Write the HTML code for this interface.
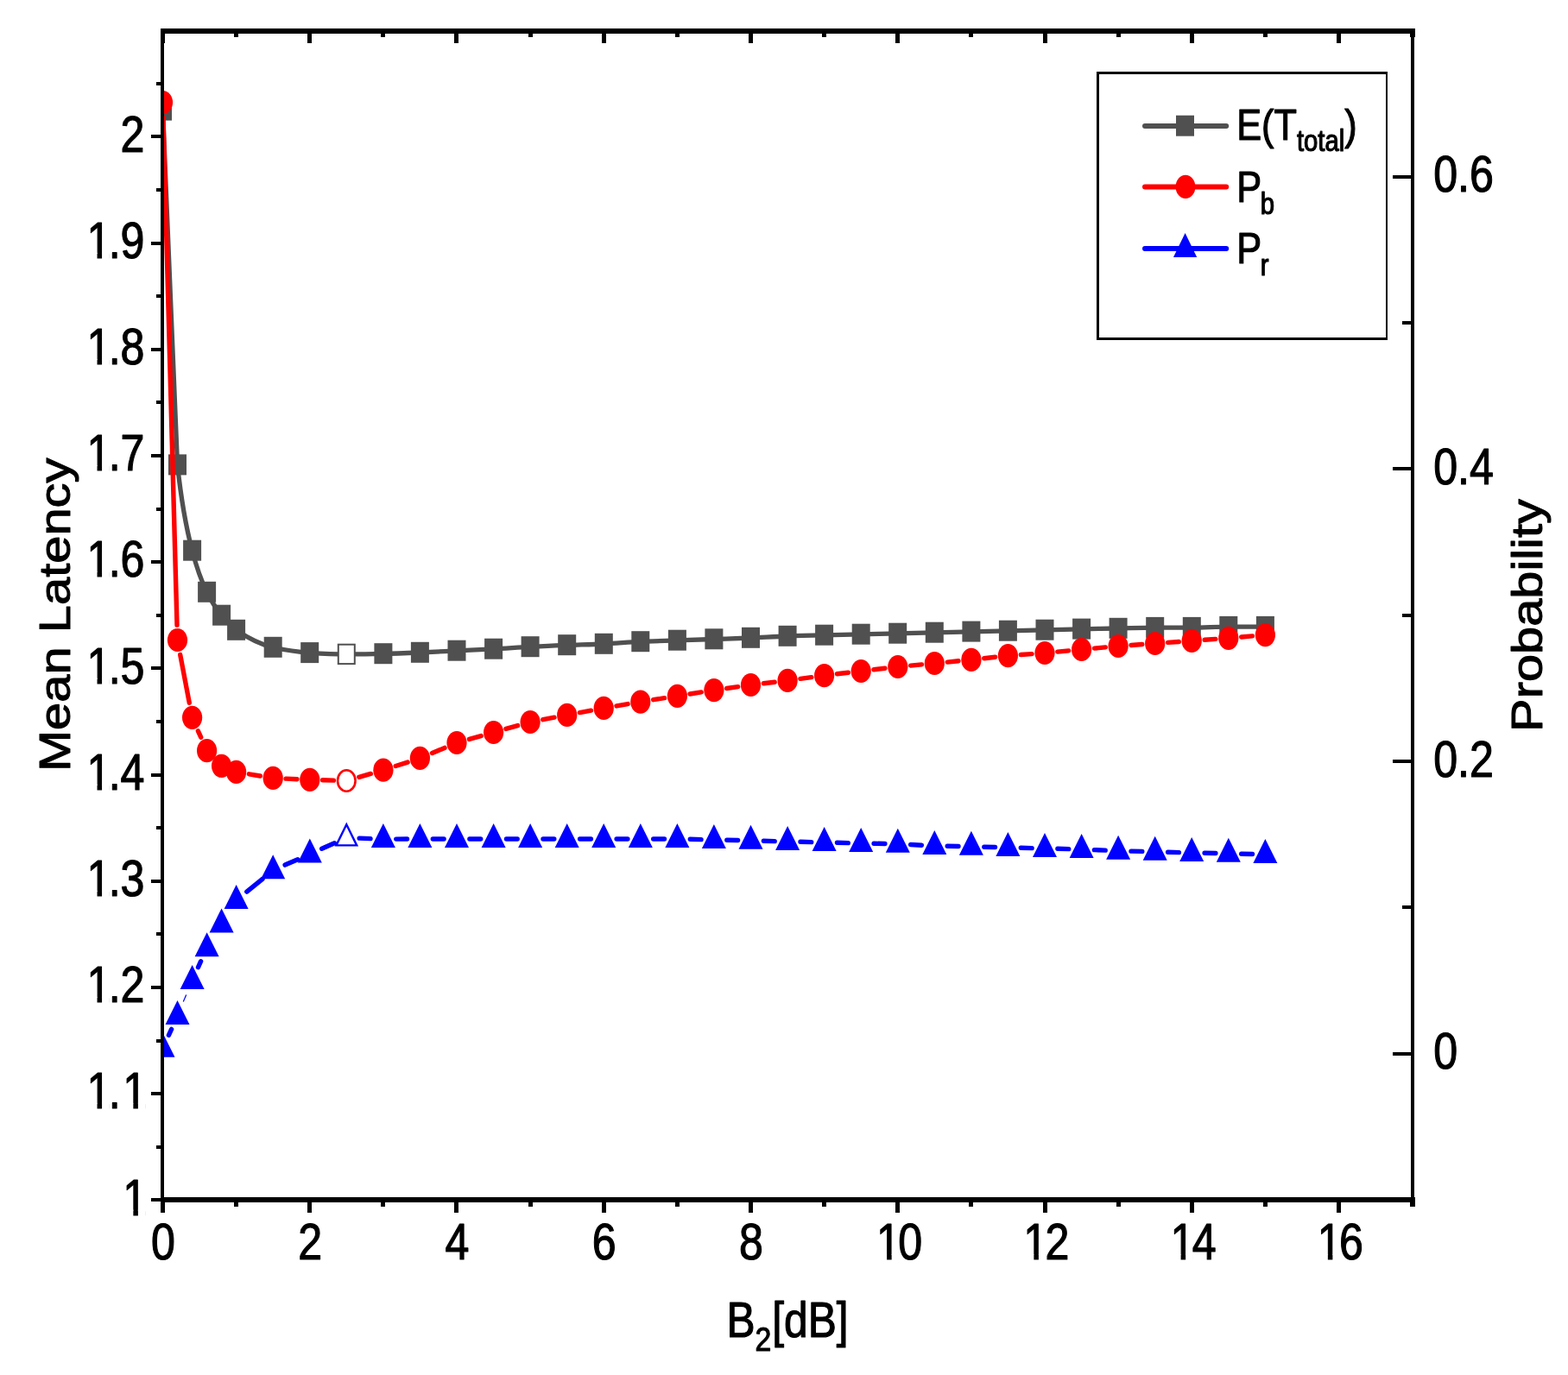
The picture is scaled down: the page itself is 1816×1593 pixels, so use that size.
<!DOCTYPE html>
<html lang="en"><head><meta charset="utf-8"><title>Mean Latency and Probability vs B2</title>
<style>html,body{margin:0;padding:0;background:#fff;}body{width:1816px;height:1593px;overflow:hidden;}svg{display:block;}text{font-family:'Liberation Sans', Arial, Helvetica, sans-serif;fill:#000;stroke:#000;stroke-width:1.2px;stroke-linejoin:round;}</style>
</head><body>
<svg width="1816" height="1593" viewBox="0 0 1816 1593">
<rect x="0" y="0" width="1816" height="1593" fill="#fff"/>
<defs><clipPath id="plot"><rect x="186" y="36" width="1450" height="1354"/></clipPath></defs>
<g clip-path="url(#plot)">
<path d="M188.5 127.8L205.5 538.6C211.2 591.9 216.9 616.3 222.6 637.9C228.2 659.5 233.9 674.5 239.6 686.0C245.2 697.5 250.9 705.9 256.6 712.9C262.3 719.9 267.9 726.2 273.6 730.0C287.8 739.6 302.0 746.8 316.2 750.0C330.4 753.2 344.6 755.4 358.8 756.3C372.9 757.2 387.1 757.9 401.3 757.9C415.5 757.9 429.7 757.6 443.9 757.4C458.1 757.2 472.2 756.6 486.4 756.0C500.6 755.4 514.8 754.6 529.0 753.9C543.2 753.2 557.4 752.6 571.6 751.9C585.8 751.2 599.9 750.1 614.1 749.4C628.3 748.7 642.5 747.9 656.7 747.4C670.9 746.9 685.1 746.6 699.2 746.0C713.4 745.4 727.6 744.0 741.8 743.4C756.0 742.8 770.2 742.4 784.4 741.9C798.6 741.4 812.8 741.0 826.9 740.5C841.1 740.0 855.3 739.6 869.5 739.0C883.7 738.4 897.9 737.5 912.1 737.0C926.2 736.5 940.4 736.2 954.6 735.9C968.8 735.6 983.0 735.2 997.2 734.9C1011.4 734.6 1025.6 734.2 1039.8 733.9C1053.9 733.6 1068.1 733.2 1082.3 732.9C1096.5 732.6 1110.7 732.1 1124.9 731.8C1139.1 731.5 1153.2 731.2 1167.4 730.9C1181.6 730.6 1195.8 730.2 1210.0 729.9C1224.2 729.6 1238.4 729.1 1252.6 728.8C1266.8 728.5 1280.9 728.3 1295.1 728.0C1309.3 727.7 1323.5 727.1 1337.7 727.1C1351.9 727.1 1366.1 727.1 1380.2 727.1C1394.4 727.1 1408.6 726.1 1422.8 726.1C1437.0 726.1 1451.2 726.1 1465.4 726.1" fill="none" stroke="#505050" stroke-width="5.3" stroke-linejoin="round"/>
<rect x="178.0" y="115.6" width="21" height="24" fill="#505050"/>
<rect x="195.0" y="526.4" width="21" height="24" fill="#505050"/>
<rect x="212.1" y="625.7" width="21" height="24" fill="#505050"/>
<rect x="229.1" y="673.8" width="21" height="24" fill="#505050"/>
<rect x="246.1" y="700.7" width="21" height="24" fill="#505050"/>
<rect x="263.1" y="717.8" width="21" height="24" fill="#505050"/>
<rect x="305.7" y="737.8" width="21" height="24" fill="#505050"/>
<rect x="348.2" y="744.1" width="21" height="24" fill="#505050"/>
<rect x="391.8" y="746.7" width="19.0" height="22.4" fill="#fff" stroke="#505050" stroke-width="2"/>
<rect x="433.4" y="745.2" width="21" height="24" fill="#505050"/>
<rect x="475.9" y="743.8" width="21" height="24" fill="#505050"/>
<rect x="518.5" y="741.7" width="21" height="24" fill="#505050"/>
<rect x="561.1" y="739.7" width="21" height="24" fill="#505050"/>
<rect x="603.6" y="737.2" width="21" height="24" fill="#505050"/>
<rect x="646.2" y="735.2" width="21" height="24" fill="#505050"/>
<rect x="688.8" y="733.8" width="21" height="24" fill="#505050"/>
<rect x="731.3" y="731.2" width="21" height="24" fill="#505050"/>
<rect x="773.9" y="729.7" width="21" height="24" fill="#505050"/>
<rect x="816.4" y="728.3" width="21" height="24" fill="#505050"/>
<rect x="859.0" y="726.8" width="21" height="24" fill="#505050"/>
<rect x="901.6" y="724.8" width="21" height="24" fill="#505050"/>
<rect x="944.1" y="723.7" width="21" height="24" fill="#505050"/>
<rect x="986.7" y="722.7" width="21" height="24" fill="#505050"/>
<rect x="1029.2" y="721.7" width="21" height="24" fill="#505050"/>
<rect x="1071.8" y="720.7" width="21" height="24" fill="#505050"/>
<rect x="1114.4" y="719.6" width="21" height="24" fill="#505050"/>
<rect x="1156.9" y="718.7" width="21" height="24" fill="#505050"/>
<rect x="1199.5" y="717.7" width="21" height="24" fill="#505050"/>
<rect x="1242.1" y="716.6" width="21" height="24" fill="#505050"/>
<rect x="1284.6" y="715.8" width="21" height="24" fill="#505050"/>
<rect x="1327.2" y="714.9" width="21" height="24" fill="#505050"/>
<rect x="1369.8" y="714.9" width="21" height="24" fill="#505050"/>
<rect x="1412.3" y="713.9" width="21" height="24" fill="#505050"/>
<rect x="1454.9" y="713.9" width="21" height="24" fill="#505050"/>
<path d="M189.0 136.0 L205.0 724.1M208.7 758.5 L219.3 814.3M229.4 846.8 L232.7 854.2M288.4 896.8 L301.4 899.0M331.1 902.1 L343.9 902.7M373.6 903.8 L386.4 904.1M415.8 900.3 L429.4 896.4M458.2 887.5 L472.1 883.1M500.5 872.5 L515.0 866.4M543.5 856.4 L557.1 852.6M586.0 844.4 L599.6 840.6M628.8 833.7 L642.0 831.2M671.4 825.6 L684.5 823.2M714.0 817.9 L727.1 815.6M756.6 810.7 L769.6 808.7M799.1 804.0 L812.2 801.9M841.7 797.5 L854.7 795.6M884.3 791.7 L897.2 790.2M926.9 786.4 L939.8 784.6M969.4 780.8 L982.4 779.3M1012.0 775.8 L1024.9 774.2M1054.6 771.1 L1067.5 769.9M1097.2 767.1 L1110.0 765.8M1139.7 762.7 L1152.6 761.3M1182.3 758.5 L1195.1 757.6M1224.8 755.1 L1237.7 753.9M1267.4 751.1 L1280.3 749.9M1310.0 747.5 L1322.8 746.5M1352.6 744.4 L1365.4 743.5M1395.1 741.3 L1407.9 740.4M1437.7 738.0 L1450.5 736.9" fill="none" stroke="#ff0000" stroke-width="5.4" stroke-linecap="round"/>
<ellipse cx="188.5" cy="118.6" rx="11.6" ry="13.6" fill="#ff0000"/>
<ellipse cx="205.5" cy="741.5" rx="11.6" ry="13.6" fill="#ff0000"/>
<ellipse cx="222.6" cy="831.3" rx="11.6" ry="13.6" fill="#ff0000"/>
<ellipse cx="239.6" cy="869.7" rx="11.6" ry="13.6" fill="#ff0000"/>
<ellipse cx="256.6" cy="887.3" rx="11.6" ry="13.6" fill="#ff0000"/>
<ellipse cx="273.6" cy="894.4" rx="11.6" ry="13.6" fill="#ff0000"/>
<ellipse cx="316.2" cy="901.4" rx="11.6" ry="13.6" fill="#ff0000"/>
<ellipse cx="358.8" cy="903.4" rx="11.6" ry="13.6" fill="#ff0000"/>
<ellipse cx="401.3" cy="904.5" rx="10.3" ry="12.3" fill="#fff" stroke="#ff0000" stroke-width="2.6"/>
<ellipse cx="443.9" cy="892.2" rx="11.6" ry="13.6" fill="#ff0000"/>
<ellipse cx="486.4" cy="878.4" rx="11.6" ry="13.6" fill="#ff0000"/>
<ellipse cx="529.0" cy="860.5" rx="11.6" ry="13.6" fill="#ff0000"/>
<ellipse cx="571.6" cy="848.5" rx="11.6" ry="13.6" fill="#ff0000"/>
<ellipse cx="614.1" cy="836.5" rx="11.6" ry="13.6" fill="#ff0000"/>
<ellipse cx="656.7" cy="828.4" rx="11.6" ry="13.6" fill="#ff0000"/>
<ellipse cx="699.2" cy="820.4" rx="11.6" ry="13.6" fill="#ff0000"/>
<ellipse cx="741.8" cy="813.1" rx="11.6" ry="13.6" fill="#ff0000"/>
<ellipse cx="784.4" cy="806.3" rx="11.6" ry="13.6" fill="#ff0000"/>
<ellipse cx="826.9" cy="799.6" rx="11.6" ry="13.6" fill="#ff0000"/>
<ellipse cx="869.5" cy="793.5" rx="11.6" ry="13.6" fill="#ff0000"/>
<ellipse cx="912.1" cy="788.4" rx="11.6" ry="13.6" fill="#ff0000"/>
<ellipse cx="954.6" cy="782.6" rx="11.6" ry="13.6" fill="#ff0000"/>
<ellipse cx="997.2" cy="777.5" rx="11.6" ry="13.6" fill="#ff0000"/>
<ellipse cx="1039.8" cy="772.5" rx="11.6" ry="13.6" fill="#ff0000"/>
<ellipse cx="1082.3" cy="768.5" rx="11.6" ry="13.6" fill="#ff0000"/>
<ellipse cx="1124.9" cy="764.4" rx="11.6" ry="13.6" fill="#ff0000"/>
<ellipse cx="1167.4" cy="759.6" rx="11.6" ry="13.6" fill="#ff0000"/>
<ellipse cx="1210.0" cy="756.5" rx="11.6" ry="13.6" fill="#ff0000"/>
<ellipse cx="1252.6" cy="752.5" rx="11.6" ry="13.6" fill="#ff0000"/>
<ellipse cx="1295.1" cy="748.5" rx="11.6" ry="13.6" fill="#ff0000"/>
<ellipse cx="1337.7" cy="745.5" rx="11.6" ry="13.6" fill="#ff0000"/>
<ellipse cx="1380.2" cy="742.4" rx="11.6" ry="13.6" fill="#ff0000"/>
<ellipse cx="1422.8" cy="739.3" rx="11.6" ry="13.6" fill="#ff0000"/>
<ellipse cx="1465.4" cy="735.6" rx="11.6" ry="13.6" fill="#ff0000"/>
<path d="M212.3 1160.6 L215.7 1152.4" fill="none" stroke="#0000ff" stroke-width="1.2"/>
<path d="M195.4 1199.3 L198.6 1192.4M229.5 1120.6 L232.6 1113.7M285.8 1033.1 L304.0 1018.3M330.1 1002.1 L344.8 995.7M372.7 983.3 L387.4 976.8M416.2 971.1 L429.0 971.6M458.8 972.1 L471.5 972.0M501.3 972.0 L514.1 972.0M543.9 972.0 L556.7 972.0M586.5 972.0 L599.2 972.0M629.0 972.0 L641.8 972.0M671.6 972.0 L684.4 972.0M714.1 972.0 L726.9 972.0M756.7 972.0 L769.5 972.0M799.3 972.3 L812.0 972.6M841.8 973.2 L854.6 973.5M884.4 974.2 L897.2 974.6M927.0 975.3 L939.7 975.6M969.5 976.2 L982.3 976.6M1012.1 977.2 L1024.9 977.5M1054.6 978.5 L1067.4 979.2M1097.2 980.2 L1110.0 980.5M1139.8 981.2 L1152.5 981.5M1182.3 982.2 L1195.1 982.6M1224.9 983.3 L1237.7 983.6M1267.4 984.6 L1280.2 985.1M1310.0 986.1 L1322.8 986.4M1352.6 987.2 L1365.4 987.6M1395.1 988.3 L1407.9 988.5M1437.7 989.2 L1450.5 989.5" fill="none" stroke="#0000ff" stroke-width="5.4" stroke-linecap="round"/>
<path d="M188.5 1196.7 L202.5 1224.7 L174.5 1224.7 Z" fill="#0000ff"/>
<path d="M205.5 1159.0 L219.5 1187.0 L191.5 1187.0 Z" fill="#0000ff"/>
<path d="M222.6 1118.0 L236.6 1146.0 L208.6 1146.0 Z" fill="#0000ff"/>
<path d="M239.6 1080.3 L253.6 1108.3 L225.6 1108.3 Z" fill="#0000ff"/>
<path d="M256.6 1052.4 L270.6 1080.4 L242.6 1080.4 Z" fill="#0000ff"/>
<path d="M273.6 1025.1 L287.6 1053.1 L259.6 1053.1 Z" fill="#0000ff"/>
<path d="M316.2 990.3 L330.2 1018.3 L302.2 1018.3 Z" fill="#0000ff"/>
<path d="M358.8 971.5 L372.8 999.5 L344.8 999.5 Z" fill="#0000ff"/>
<path d="M401.3 955.3 L413.2 979.4 L389.4 979.4 Z" fill="#fff" stroke="#0000ff" stroke-width="2.4" stroke-linejoin="miter"/>
<path d="M443.9 954.1 L457.9 982.1 L429.9 982.1 Z" fill="#0000ff"/>
<path d="M486.4 954.0 L500.4 982.0 L472.4 982.0 Z" fill="#0000ff"/>
<path d="M529.0 954.0 L543.0 982.0 L515.0 982.0 Z" fill="#0000ff"/>
<path d="M571.6 954.0 L585.6 982.0 L557.6 982.0 Z" fill="#0000ff"/>
<path d="M614.1 954.0 L628.1 982.0 L600.1 982.0 Z" fill="#0000ff"/>
<path d="M656.7 954.0 L670.7 982.0 L642.7 982.0 Z" fill="#0000ff"/>
<path d="M699.2 954.0 L713.2 982.0 L685.2 982.0 Z" fill="#0000ff"/>
<path d="M741.8 954.0 L755.8 982.0 L727.8 982.0 Z" fill="#0000ff"/>
<path d="M784.4 954.0 L798.4 982.0 L770.4 982.0 Z" fill="#0000ff"/>
<path d="M826.9 954.9 L840.9 982.9 L812.9 982.9 Z" fill="#0000ff"/>
<path d="M869.5 955.8 L883.5 983.8 L855.5 983.8 Z" fill="#0000ff"/>
<path d="M912.1 957.0 L926.1 985.0 L898.1 985.0 Z" fill="#0000ff"/>
<path d="M954.6 957.9 L968.6 985.9 L940.6 985.9 Z" fill="#0000ff"/>
<path d="M997.2 958.9 L1011.2 986.9 L983.2 986.9 Z" fill="#0000ff"/>
<path d="M1039.8 959.8 L1053.8 987.8 L1025.8 987.8 Z" fill="#0000ff"/>
<path d="M1082.3 961.9 L1096.3 989.9 L1068.3 989.9 Z" fill="#0000ff"/>
<path d="M1124.9 962.8 L1138.9 990.8 L1110.9 990.8 Z" fill="#0000ff"/>
<path d="M1167.4 963.9 L1181.4 991.9 L1153.4 991.9 Z" fill="#0000ff"/>
<path d="M1210.0 964.9 L1224.0 992.9 L1196.0 992.9 Z" fill="#0000ff"/>
<path d="M1252.6 966.0 L1266.6 994.0 L1238.6 994.0 Z" fill="#0000ff"/>
<path d="M1295.1 967.7 L1309.1 995.7 L1281.1 995.7 Z" fill="#0000ff"/>
<path d="M1337.7 968.8 L1351.7 996.8 L1323.7 996.8 Z" fill="#0000ff"/>
<path d="M1380.2 970.0 L1394.2 998.0 L1366.2 998.0 Z" fill="#0000ff"/>
<path d="M1422.8 970.8 L1436.8 998.8 L1408.8 998.8 Z" fill="#0000ff"/>
<path d="M1465.4 971.9 L1479.4 999.9 L1451.4 999.9 Z" fill="#0000ff"/>
</g>
<g fill="#000" shape-rendering="crispEdges">
<rect x="186" y="33" width="1453" height="6"/>
<rect x="186" y="1387" width="1453" height="6"/>
<rect x="186" y="33" width="4" height="1360"/>
<rect x="1634" y="33" width="4" height="1360"/>
<rect x="186" y="1393" width="5" height="12"/>
<rect x="186" y="39" width="5" height="11"/>
<rect x="271" y="1393" width="5" height="5"/>
<rect x="271" y="39" width="5" height="4"/>
<rect x="356" y="1393" width="5" height="12"/>
<rect x="356" y="39" width="5" height="11"/>
<rect x="441" y="1393" width="5" height="5"/>
<rect x="441" y="39" width="5" height="4"/>
<rect x="526" y="1393" width="5" height="12"/>
<rect x="526" y="39" width="5" height="11"/>
<rect x="612" y="1393" width="5" height="5"/>
<rect x="612" y="39" width="5" height="4"/>
<rect x="697" y="1393" width="5" height="12"/>
<rect x="697" y="39" width="5" height="11"/>
<rect x="782" y="1393" width="5" height="5"/>
<rect x="782" y="39" width="5" height="4"/>
<rect x="867" y="1393" width="5" height="12"/>
<rect x="867" y="39" width="5" height="11"/>
<rect x="952" y="1393" width="5" height="5"/>
<rect x="952" y="39" width="5" height="4"/>
<rect x="1037" y="1393" width="5" height="12"/>
<rect x="1037" y="39" width="5" height="11"/>
<rect x="1122" y="1393" width="5" height="5"/>
<rect x="1122" y="39" width="5" height="4"/>
<rect x="1208" y="1393" width="5" height="12"/>
<rect x="1208" y="39" width="5" height="11"/>
<rect x="1293" y="1393" width="5" height="5"/>
<rect x="1293" y="39" width="5" height="4"/>
<rect x="1378" y="1393" width="5" height="12"/>
<rect x="1378" y="39" width="5" height="11"/>
<rect x="1463" y="1393" width="5" height="5"/>
<rect x="1463" y="39" width="5" height="4"/>
<rect x="1548" y="1393" width="5" height="12"/>
<rect x="1548" y="39" width="5" height="11"/>
<rect x="1633" y="1393" width="6" height="5"/>
<rect x="1633" y="39" width="6" height="4"/>
<rect x="175" y="1388" width="11" height="4"/>
<rect x="181" y="1327" width="5" height="4"/>
<rect x="175" y="1265" width="11" height="4"/>
<rect x="181" y="1204" width="5" height="4"/>
<rect x="175" y="1142" width="11" height="4"/>
<rect x="181" y="1080" width="5" height="4"/>
<rect x="175" y="1019" width="11" height="4"/>
<rect x="181" y="957" width="5" height="4"/>
<rect x="175" y="896" width="11" height="4"/>
<rect x="181" y="834" width="5" height="4"/>
<rect x="175" y="772" width="11" height="4"/>
<rect x="181" y="711" width="5" height="4"/>
<rect x="175" y="649" width="11" height="4"/>
<rect x="181" y="588" width="5" height="4"/>
<rect x="175" y="526" width="11" height="4"/>
<rect x="181" y="464" width="5" height="4"/>
<rect x="175" y="403" width="11" height="4"/>
<rect x="181" y="341" width="5" height="4"/>
<rect x="175" y="280" width="11" height="4"/>
<rect x="181" y="218" width="5" height="4"/>
<rect x="175" y="156" width="11" height="4"/>
<rect x="181" y="95" width="5" height="4"/>
<rect x="1613" y="1219" width="21" height="4"/>
<rect x="1624" y="1049" width="10" height="4"/>
<rect x="1613" y="880" width="21" height="4"/>
<rect x="1624" y="711" width="10" height="4"/>
<rect x="1613" y="541" width="21" height="4"/>
<rect x="1624" y="372" width="10" height="4"/>
<rect x="1613" y="203" width="21" height="4"/>
</g>
<text transform="translate(175.05 1459.3) scale(0.856 1)" font-size="58.6">0</text>
<text transform="translate(345.30 1459.3) scale(0.856 1)" font-size="58.6">2</text>
<text transform="translate(515.55 1459.3) scale(0.856 1)" font-size="58.6">4</text>
<text transform="translate(685.80 1459.3) scale(0.856 1)" font-size="58.6">6</text>
<text transform="translate(856.05 1459.3) scale(0.856 1)" font-size="58.6">8</text>
<text transform="translate(1012.35 1459.3) scale(0.856 1)" font-size="58.6"><tspan dx="3.15">1</tspan><tspan dx="-3.15">0</tspan></text>
<text transform="translate(1182.60 1459.3) scale(0.856 1)" font-size="58.6"><tspan dx="3.15">1</tspan><tspan dx="-3.15">2</tspan></text>
<text transform="translate(1352.85 1459.3) scale(0.856 1)" font-size="58.6"><tspan dx="3.15">1</tspan><tspan dx="-3.15">4</tspan></text>
<text transform="translate(1523.10 1459.3) scale(0.856 1)" font-size="58.6"><tspan dx="3.15">1</tspan><tspan dx="-3.15">6</tspan></text>
<text transform="translate(139.60 1407.5) scale(0.856 1)" font-size="58.6"><tspan dx="3.15">1</tspan></text>
<text transform="translate(97.77 1284.3) scale(0.856 1)" font-size="58.6"><tspan dx="3.15">1</tspan><tspan dx="-3.15">.</tspan><tspan dx="3.15">1</tspan></text>
<text transform="translate(97.77 1161.1) scale(0.856 1)" font-size="58.6"><tspan dx="3.15">1</tspan><tspan dx="-3.15">.</tspan>2</text>
<text transform="translate(97.77 1038.0) scale(0.856 1)" font-size="58.6"><tspan dx="3.15">1</tspan><tspan dx="-3.15">.</tspan>3</text>
<text transform="translate(97.77 914.8) scale(0.856 1)" font-size="58.6"><tspan dx="3.15">1</tspan><tspan dx="-3.15">.</tspan>4</text>
<text transform="translate(97.77 791.6) scale(0.856 1)" font-size="58.6"><tspan dx="3.15">1</tspan><tspan dx="-3.15">.</tspan>5</text>
<text transform="translate(97.77 668.4) scale(0.856 1)" font-size="58.6"><tspan dx="3.15">1</tspan><tspan dx="-3.15">.</tspan>6</text>
<text transform="translate(97.77 545.2) scale(0.856 1)" font-size="58.6"><tspan dx="3.15">1</tspan><tspan dx="-3.15">.</tspan>7</text>
<text transform="translate(97.77 422.1) scale(0.856 1)" font-size="58.6"><tspan dx="3.15">1</tspan><tspan dx="-3.15">.</tspan>8</text>
<text transform="translate(97.77 298.9) scale(0.856 1)" font-size="58.6"><tspan dx="3.15">1</tspan><tspan dx="-3.15">.</tspan>9</text>
<text transform="translate(139.60 175.7) scale(0.856 1)" font-size="58.6">2</text>
<text transform="translate(1660.20 1238.1) scale(0.856 1)" font-size="58.6">0</text>
<text transform="translate(1660.20 899.5) scale(0.856 1)" font-size="58.6">0.2</text>
<text transform="translate(1660.20 560.9) scale(0.856 1)" font-size="58.6">0.4</text>
<text transform="translate(1660.20 222.3) scale(0.856 1)" font-size="58.6">0.6</text>
<g fill="#fff">
<rect x="1017.50" y="1453.32" width="9.61" height="7.68"/>
<rect x="1032.65" y="1453.32" width="8.80" height="7.68"/>
<rect x="1187.75" y="1453.32" width="9.61" height="7.68"/>
<rect x="1202.90" y="1453.32" width="8.80" height="7.68"/>
<rect x="1358.00" y="1453.32" width="9.61" height="7.68"/>
<rect x="1373.15" y="1453.32" width="8.80" height="7.68"/>
<rect x="1528.25" y="1453.32" width="9.61" height="7.68"/>
<rect x="1543.40" y="1453.32" width="8.80" height="7.68"/>
<rect x="144.75" y="1401.52" width="9.61" height="7.68"/>
<rect x="159.90" y="1401.52" width="8.80" height="7.68"/>
<rect x="102.92" y="1278.34" width="9.61" height="7.68"/>
<rect x="118.07" y="1278.34" width="8.80" height="7.68"/>
<rect x="144.75" y="1278.34" width="9.61" height="7.68"/>
<rect x="159.90" y="1278.34" width="8.80" height="7.68"/>
<rect x="102.92" y="1155.16" width="9.61" height="7.68"/>
<rect x="118.07" y="1155.16" width="8.80" height="7.68"/>
<rect x="102.92" y="1031.98" width="9.61" height="7.68"/>
<rect x="118.07" y="1031.98" width="8.80" height="7.68"/>
<rect x="102.92" y="908.80" width="9.61" height="7.68"/>
<rect x="118.07" y="908.80" width="8.80" height="7.68"/>
<rect x="102.92" y="785.62" width="9.61" height="7.68"/>
<rect x="118.07" y="785.62" width="8.80" height="7.68"/>
<rect x="102.92" y="662.44" width="9.61" height="7.68"/>
<rect x="118.07" y="662.44" width="8.80" height="7.68"/>
<rect x="102.92" y="539.26" width="9.61" height="7.68"/>
<rect x="118.07" y="539.26" width="8.80" height="7.68"/>
<rect x="102.92" y="416.08" width="9.61" height="7.68"/>
<rect x="118.07" y="416.08" width="8.80" height="7.68"/>
<rect x="102.92" y="292.90" width="9.61" height="7.68"/>
<rect x="118.07" y="292.90" width="8.80" height="7.68"/>
</g>
<text transform="translate(81 712.3) rotate(-90) scale(1 0.856)" font-size="57.9" text-anchor="middle">Mean Latency</text>
<text transform="translate(1786 713) rotate(-90) scale(1 0.856)" font-size="57.8" text-anchor="middle">Probability</text>
<text transform="translate(841.5 1549.3) scale(0.856 1)" font-size="58">B<tspan font-size="39.5" dy="15.2">2</tspan><tspan dx="1" dy="-15.2">[dB]</tspan></text>
<g shape-rendering="crispEdges"><rect x="1270" y="83" width="337" height="311" fill="#000"/><rect x="1273" y="86" width="332" height="305" fill="#fff"/></g>
<line x1="1326" y1="145.9" x2="1420.2" y2="145.9" stroke="#505050" stroke-width="6" stroke-linecap="round"/>
<line x1="1326" y1="216.6" x2="1420.2" y2="216.6" stroke="#ff0000" stroke-width="6" stroke-linecap="round"/>
<line x1="1326" y1="288.1" x2="1420.2" y2="288.1" stroke="#0000ff" stroke-width="6" stroke-linecap="round"/>
<rect x="1362" y="133.7" width="21" height="24" fill="#505050"/>
<ellipse cx="1373" cy="216.4" rx="11.4" ry="13.6" fill="#ff0000"/>
<path d="M1372.6 270 L1386.2 298 L1359 298 Z" fill="#0000ff"/>
<text transform="translate(1432.2 161.5) scale(0.856 1)" font-size="50.6">E(T<tspan font-size="34.2" dy="13.9">total</tspan><tspan dy="-13.9">)</tspan></text>
<text transform="translate(1432.2 233.9) scale(0.856 1)" font-size="50.6">P<tspan font-size="34.2" dx="-1.5" dy="13.9">b</tspan></text>
<text transform="translate(1432.2 304.6) scale(0.856 1)" font-size="50.6">P<tspan font-size="34.2" dx="-1.5" dy="13.9">r</tspan></text>
</svg>
</body></html>
